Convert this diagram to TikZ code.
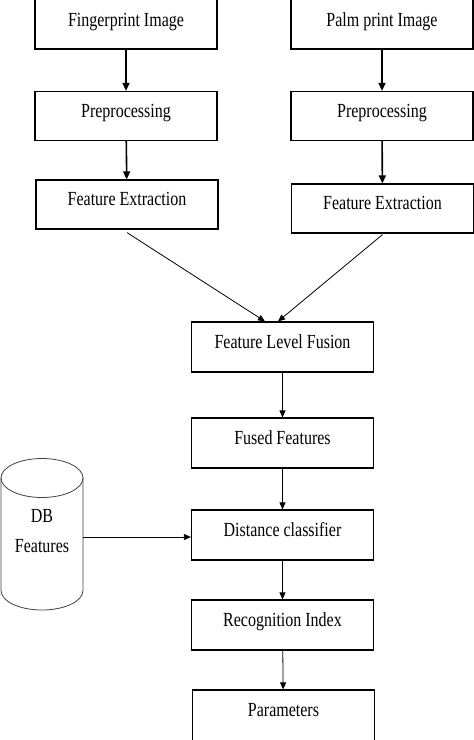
\documentclass[tikz,border=0pt]{standalone}
\usepackage{fontspec}
\setmainfont{Liberation Serif}[FakeStretch=0.8]
\usetikzlibrary{arrows.meta}

\begin{document}
\begin{tikzpicture}
[x=1pt, y=-1pt,
 stage/.style={rectangle, draw=black, line width=1.2pt, minimum width=182pt, minimum height=49pt,
               inner sep=0pt, text height=14pt, text depth=12pt, font=\fontsize{20}{24}\selectfont},
 bold flow/.style={line width=1.6pt, -{Triangle[length=8pt, width=7pt]}},
 flow/.style={line width=0.8pt, -{Triangle[length=7pt, width=6pt]}},
 drum/.style={draw=black!75, line width=0.8pt},
]
\useasboundingbox (0,0) rectangle (474,740);

%left branch
\node[stage, minimum height=52pt, text depth=7pt] (fingL) at (126,23) {Fingerprint Image};
\node[stage] (preL)  at (126,116)   {Preprocessing};
\node[stage] (featL) at (127,204.5) {Feature Extraction};

%right branch
\node[stage, minimum height=52pt, text depth=7pt] (palmR) at (382,23) {Palm print Image};
\node[stage] (preR)  at (382,116)   {Preprocessing};
\node[stage] (featR) at (382.5,208.5) {Feature Extraction};

%fusion chain
\node[stage, minimum height=50pt] (fusion) at (282.5,347) {Feature Level Fusion};
\node[stage, minimum height=50pt] (fused)  at (282.5,443) {Fused Features};
\node[stage, minimum height=50pt] (dist)   at (282.5,535) {Distance classifier};
\node[stage, minimum height=50pt] (recog)  at (282.5,625) {Recognition Index};
\node[stage, minimum height=60pt, text depth=22pt] (param) at (283.5,720) {Parameters};

%DB drum
\draw[drum] (1,478) -- (1,590.5) arc[start angle=180, end angle=360, x radius=41pt, y radius=19.5pt] -- (83,478);
\draw[drum] (42,478) ellipse [x radius=41pt, y radius=19.5pt];
\node[align=center, font=\fontsize{20}{30}\selectfont] (db) at (42,531) {DB\\Features};
\coordinate (dbout) at (83,537);

%arrows
\draw[bold flow] (fingL) -- (preL);
\draw[bold flow] (preL) -- (featL);
\draw[bold flow] (palmR) -- (preR);
\draw[bold flow] (preR) -- (featR);

\draw[flow] ([yshift=-3pt]featL.south) -- ([xshift=-17.5pt]fusion.north);
\draw[flow] ([yshift=-1pt]featR.south) -- ([xshift=-4.5pt]fusion.north);

\draw[flow] (fusion) -- (fused);
\draw[flow] (fused) -- (dist);
\draw[flow] (dist) -- (recog);
\draw[flow] (recog) -- (param);
\draw[flow] (dbout) -- (dbout -| dist.west);

\end{tikzpicture}
\end{document}
